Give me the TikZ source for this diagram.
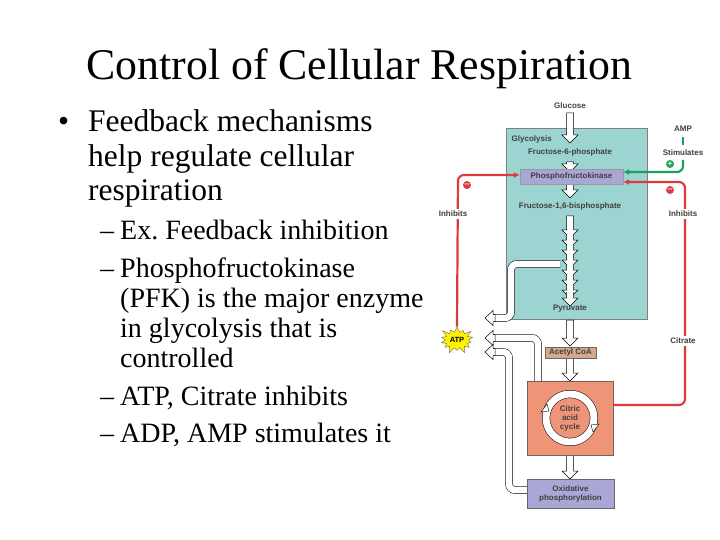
\documentclass[tikz,border=0pt]{standalone}
\usepackage{fontspec}
\setmainfont{Liberation Serif}
\newfontfamily\dsans{Liberation Sans}
\usetikzlibrary{shapes.symbols,arrows.meta}
\definecolor{teal1}{RGB}{155,212,208}
\definecolor{lav}{RGB}{170,166,214}
\definecolor{tan1}{RGB}{214,168,140}
\definecolor{salm}{RGB}{240,148,120}
\definecolor{red1}{RGB}{222,58,62}
\definecolor{grn}{RGB}{30,160,90}
\newcommand\hdown[3]{\draw[fill=white,line width=0.5pt] (#1-3.5,#2) -- (#1-3.5,#3-8) -- (#1-8,#3-8) -- (#1,#3) -- (#1+8,#3-8) -- (#1+3.5,#3-8) -- (#1+3.5,#2) -- cycle;}
\newcommand\hchev[2]{\draw[fill=white,line width=0.5pt] (#1-3.5,#2-14) -- (#1-3.5,#2-8) -- (#1-8,#2-8) -- (#1,#2) -- (#1+8,#2-8) -- (#1+3.5,#2-8) -- (#1+3.5,#2-14);}
\newcommand\hleft[2]{\draw[fill=white,line width=0.5pt] (#1+8,#2-7.5) -- (#1,#2) -- (#1+8,#2+7.5) -- (#1+8,#2+3.5) -- (#1+10,#2+3.5) -- (#1+10,#2-3.5) -- (#1+8,#2-3.5) -- cycle;}
\tikzset{
 lbl/.style={font=\dsans\bfseries\fontsize{8}{9}\selectfont, text=black!75, align=center, inner sep=0.5pt},
 tube/.style={line width=7.5pt, black, rounded corners=6pt},
 tubein/.style={line width=6.5pt, white, rounded corners=6pt},
 inh/.style={red1, line width=2.2pt, rounded corners=6pt},
 sign/.style={circle, fill=#1, minimum size=8pt, inner sep=0pt, text=white, font=\dsans\bfseries\fontsize{8}{8}\selectfont},
 btxt/.style={anchor=base west, inner sep=0pt, font=\fontsize{31.5}{35}\selectfont},
 stxt/.style={anchor=base west, inner sep=0pt, font=\fontsize{28}{30}\selectfont},
}
\begin{document}
\begin{tikzpicture}[x=1pt,y=-1pt]
\useasboundingbox (0,0) rectangle (720,540);
% text
\node[anchor=base, inner sep=0pt, font=\fontsize{43.8}{48}\selectfont] (title) at (359.5,80) {Control of Cellular Respiration};
\node[btxt] (b0) at (58,132) {\textbullet};
\node[btxt] (b1) at (88,132) {Feedback mechanisms};
\node[btxt] (b2) at (88,167) {help regulate cellular};
\node[btxt] (b3) at (88,201) {respiration};
\node[stxt] (d1) at (100,240) {--};
\node[stxt] (s1) at (120,240) {Ex.~Feedback inhibition};
\node[stxt] (d2) at (100,277) {--};
\node[stxt] (s2) at (120,277) {Phosphofructokinase};
\node[stxt] (s3) at (120,307) {(PFK) is the major enzyme};
\node[stxt] (s4) at (120,337) {in glycolysis that is};
\node[stxt] (s5) at (120,367) {controlled};
\node[stxt] (d6) at (100,405) {--};
\node[stxt] (s6) at (120,405) {ATP, Citrate inhibits};
\node[stxt] (d7) at (100,442) {--};
\node[stxt] (s7) at (120,442) {ADP, AMP stimulates it};
% boxes
\node[draw=black!50, fill=teal1, minimum width=141pt, minimum height=191pt, inner sep=0pt] (gly) at (576.5,223.5) {};
% tubes to ATP
\draw[tube] (560,264) -- (511,264) -- (511,318) -- (494,318);
\draw[tubein] (560,264) -- (511,264) -- (511,318) -- (494,318);
\draw[tube] (538,381) -- (538,338) -- (494,338);
\draw[tubein] (538,382) -- (538,338) -- (494,338);
\draw[tube] (528,490) -- (509,490) -- (509,352) -- (494,352);
\draw[tubein] (528,490) -- (509,490) -- (509,352) -- (494,352);
\hleft{485}{318}\hleft{485}{338}\hleft{485}{352}
% main chain
\hdown{570}{113}{143}
\hdown{570}{162}{172}
\hdown{570}{182}{198}
\hdown{570}{216}{238}
\foreach \y in {248,258,268,278,288,298,306} {\hchev{570}{\y}}
\hdown{570}{320}{346}
\hdown{570}{358}{381}
\hdown{570}{455}{479}
\node[draw=black!40, fill=lav, minimum width=103pt, minimum height=15pt, inner sep=0pt, lbl] (pfk) at (571.5,176.5) {Phosphofructokinase};
\node[draw=black!60, fill=tan1, minimum width=51pt, minimum height=11pt, inner sep=0pt, lbl] (acoa) at (570.5,352.5) {Acetyl CoA};
\node[draw=black!60, fill=salm, minimum width=86pt, minimum height=74pt, inner sep=0pt] (cac) at (570,418) {};
\node[draw=black!60, fill=lav, minimum width=87pt, minimum height=29pt, inner sep=0pt, lbl] (oxp) at (570.5,493.5) {Oxidative\\phosphorylation};
% cycle
\draw[black, line width=8pt] (570,418) circle (24);
\draw[white, line width=7pt] (570,418) circle (24);
\fill[white,draw=black,line width=0.4pt] (591,425) -- (599,424) -- (593,432) -- cycle;
\fill[white,draw=black,line width=0.4pt] (549,411) -- (541,412) -- (547,404) -- cycle;
\node[lbl] (cact) at (570,418) {Citric\\acid\\cycle};
% labels
\node[lbl] (glc) at (570,106) {Glucose};
\node[lbl, anchor=west] (glyl) at (511,139) {Glycolysis};
\node[lbl] (f6p) at (570,152) {Fructose-6-phosphate};
\node[lbl] (f16) at (570,206) {Fructose-1,6-bisphosphate};
\node[lbl] (pyr) at (570,309) {Pyruvate};
\node[starburst, starburst points=14, starburst point height=7pt, fill=yellow, draw=black!60, inner sep=1pt, minimum width=36pt, minimum height=30pt, font=\dsans\bfseries\fontsize{7.5}{7.5}\selectfont] (atp) at (457,340) {ATP};
% feedback lines
\draw[inh, -{Latex[length=6pt,width=6pt]}] (atp.north) -- (458,175) -- (pfk.west |- 0,175);
\draw[inh, -{Latex[length=6pt,width=6pt]}] (cac.east |- 0,405) -- (685,405) -- (685,182) -- (pfk.east |- 0,182);
\draw[grn, line width=2.2pt] (683,137) -- (683,145);
\draw[grn, line width=2.2pt, rounded corners=6pt, -{Latex[length=6pt,width=6pt]}] (683,160) -- (683,172) -- (pfk.east |- 0,172);
\node[lbl, fill=white, inner sep=2pt] (amp) at (683,129) {AMP};
\node[lbl, fill=white, inner sep=2pt] (stim) at (683,153) {Stimulates};
\node[lbl, fill=white, inner sep=2pt] (inhl) at (453,214) {Inhibits};
\node[lbl, fill=white, inner sep=2pt] (inhr) at (683,214) {Inhibits};
\node[lbl, fill=white, inner sep=2pt] (cit) at (683,341) {Citrate};
\node[sign=red1] (m1) at (467,185) {--};
\node[sign=red1] (m2) at (670,190) {--};
\node[sign=grn] (p1) at (670,164) {+};
\end{tikzpicture}
\end{document}
